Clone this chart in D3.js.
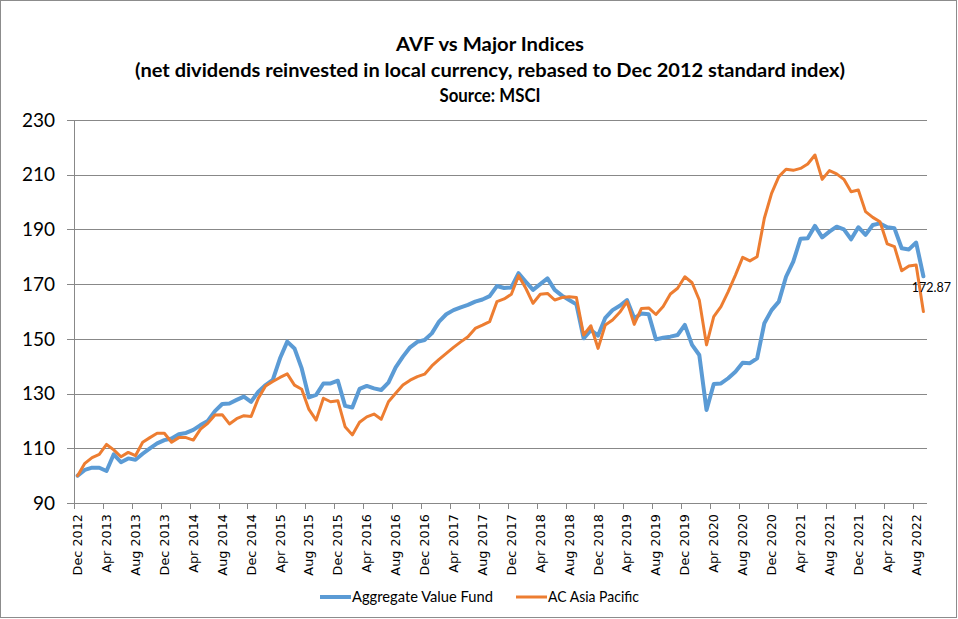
<!DOCTYPE html>
<html><head><meta charset="utf-8">
<script src="https://cdn.jsdelivr.net/npm/d3@7"></script>
<style>body{margin:0;background:#fff}svg{display:block}</style>
</head><body>
<script>
const avf = [100,102.1,102.9,102.9,101.7,107.8,104.9,106.3,105.8,108,110,111.8,113,113.6,115.1,115.6,116.7,118.5,120,123.6,
126.2,126.4,127.7,128.9,127.0,130.7,133.1,135,142.9,149,146.5,139.2,128.6,129.5,133.7,133.7,134.7,125.5,124.9,131.7,
132.8,131.9,131.3,134,139.6,143.5,146.9,148.9,149.6,152,156.3,159,160.5,161.5,162.4,163.6,164.4,165.6,169.3,168.6,
168.8,174,170.9,167.9,170,172.1,167.9,165.8,164.2,162.6,150.2,153.2,151.2,157.7,160.5,162.1,164.2,157.5,159.3,159,
149.8,150.4,150.8,151.4,155.1,147.8,144.1,124,133.5,133.7,135.6,138,141.3,141.1,142.9,155.7,160.5,163.6,172.7,178.2,
186.6,186.8,191.3,187.1,189.2,191,190,186.4,190.8,188,191.6,192.2,190.8,190.4,183.1,182.7,185.2,172.87];
const acap = [100,104.5,106.6,107.8,111.4,109.4,106.9,108.5,107.3,112.2,113.9,115.5,115.5,112.2,113.9,113.9,113,117,119.1,122.2,
122.3,118.9,120.8,121.9,121.6,128.3,132.8,134.4,135.9,137.2,133.1,131.6,124.2,120.3,128.3,127.0,127.4,117.9,114.9,119.5,
121.5,122.5,120.6,127,130.1,133.1,134.9,136.2,137.1,140.1,142.5,144.7,146.9,148.9,150.8,153.8,155,156.3,163.6,164.6,
166.3,173.1,168.5,163,166.3,166.6,164.2,165.1,165.4,165.1,151.4,154.8,146.5,155.1,156.9,159.7,163.6,155.3,161.1,161.3,
158.9,161.8,166.4,168.5,172.7,170.5,164.2,147.8,158.1,161.8,167.3,173.3,179.8,178.5,180.0,194.1,203.2,209.3,212,211.6,
212.3,213.9,217.2,208.3,211.5,210.3,208.3,203.8,204.4,196.5,194.4,192.8,184.7,183.7,174.9,176.6,177,160];
const months = d3.timeMonth.range(new Date(2012,11,1), new Date(2022,9,1));
const fmt = d3.timeFormat("%b %Y");
const categories = months.map(fmt);
const yTicks = [90,110,130,150,170,190,210,230];
const seriesNames = ["Aggregate Value Fund","AC Asia Pacific"];
const titleLines = ["AVF vs Major  Indices","(net dividends reinvested in local currency, rebased to Dec 2012 standard index)","Source: MSCI"];
const lastLabel = "172.87";

const W=958,H=619;
const svg=d3.select("body").append("svg").attr("width",W).attr("height",H);
svg.append("rect").attr("x",0.5).attr("y",0.5).attr("width",956).attr("height",617)
  .attr("fill","#fff").attr("stroke","#8c8c8c");

const L=74,R=927,T=120,B=503;
const x=d3.scaleBand().domain(categories).range([L,R]).padding(0);
const bw=x.bandwidth();
const y=d3.scaleLinear().domain([90,230]).range([B,T]);
const grid="#888888";

// gridlines
svg.append("g").selectAll("line").data(yTicks.filter(v=>v>90)).join("line")
  .attr("x1",L).attr("x2",R).attr("y1",d=>Math.round(y(d))+0.5).attr("y2",d=>Math.round(y(d))+0.5)
  .attr("stroke",grid).attr("stroke-width",1);
// y axis
svg.append("line").attr("x1",L+0.5).attr("x2",L+0.5).attr("y1",T).attr("y2",B+0.5).attr("stroke",grid);
svg.append("g").selectAll("line").data(yTicks).join("line")
  .attr("x1",L-7).attr("x2",L).attr("y1",d=>Math.round(y(d))+0.5).attr("y2",d=>Math.round(y(d))+0.5).attr("stroke",grid);
svg.append("g").selectAll("text").data(yTicks).join("text")
  .attr("x",55).attr("y",d=>y(d)).attr("dy","0.35em").attr("text-anchor","end")
  .attr("font-family","Lato, 'Open Sans', sans-serif").attr("font-size",19).attr("fill","#000").text(d=>d);
// x axis
svg.append("line").attr("x1",L).attr("x2",R).attr("y1",B+0.5).attr("y2",B+0.5).attr("stroke",grid);
const tickCats=categories.filter((c,i)=>i%4===0);
svg.append("g").selectAll("line").data(tickCats).join("line")
  .attr("x1",d=>Math.round(x(d))+0.5).attr("x2",d=>Math.round(x(d))+0.5).attr("y1",B).attr("y2",B+6).attr("stroke",grid);
svg.append("g").selectAll("text").data(tickCats).join("text")
  .attr("transform",d=>`translate(${x(d)+bw/2},514) rotate(-90)`)
  .attr("text-anchor","end").attr("dy","0.35em")
  .attr("font-family","'DejaVu Sans', sans-serif").attr("font-size",12.8).attr("fill","#000").text(d=>d);

// lines
const colors=["#5B9BD5","#ED7D31"];
const widths=[4,3];
[avf,acap].forEach((s,k)=>{
  const line=d3.line().x((d,i)=>x(categories[i])+bw/2).y(d=>y(d));
  svg.append("path").datum(s).attr("d",line).attr("fill","none")
    .attr("stroke",colors[k]).attr("stroke-width",widths[k]).attr("stroke-linejoin","round").attr("stroke-linecap","round");
});
// data label
const li=avf.length-1;
svg.append("text").attr("x",x(categories[li])+bw/2+8).attr("y",y(avf[li])+11).attr("dy","0.35em")
  .attr("text-anchor","middle").attr("font-family","Lato, sans-serif").attr("font-size",12.5).attr("fill","#000").text(lastLabel);

// title
const tw=[188,710,101], ty=[44,70,95];
svg.append("g").selectAll("text").data(titleLines).join("text")
  .attr("x",490).attr("y",(d,i)=>ty[i]).attr("dy","0.35em").attr("text-anchor","middle")
  .attr("font-family","Lato, sans-serif").attr("font-weight","bold").attr("font-size",19)
  .attr("textLength",(d,i)=>tw[i]).attr("lengthAdjust","spacingAndGlyphs").attr("fill","#000").text(d=>d);

// legend
const lg=[{x:320,tx:352,tl:141},{x:516,tx:548,tl:91}];
lg.forEach((g,k)=>{
  svg.append("line").attr("x1",g.x).attr("x2",g.x+31).attr("y1",597).attr("y2",597)
    .attr("stroke",colors[k]).attr("stroke-width",widths[k]);
  svg.append("text").attr("x",g.tx).attr("y",597).attr("dy","0.35em")
    .attr("font-family","Lato, sans-serif").attr("font-size",15).attr("fill","#000")
    .attr("textLength",g.tl).attr("lengthAdjust","spacingAndGlyphs").text(seriesNames[k]);
});
</script>
</body></html>
